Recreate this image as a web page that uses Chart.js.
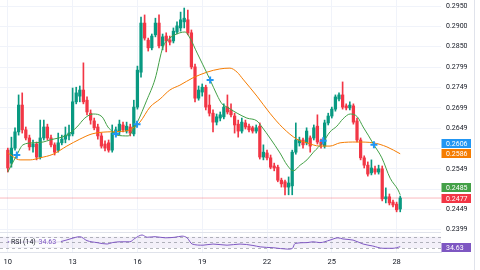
<!DOCTYPE html>
<html><head><meta charset="utf-8">
<script src="https://cdn.jsdelivr.net/npm/chart.js@4.4.1/dist/chart.umd.min.js"></script>
<style>
html,body{margin:0;padding:0;background:#fff;width:480px;height:270px;overflow:hidden}
#main{position:absolute;left:0;top:0}
#rsi{position:absolute;left:0;top:232px}
#edge{position:absolute;left:474px;top:0;width:1px;height:270px;background:#e0e3eb}
#sep{position:absolute;left:0;top:232px;width:441px;height:1px;background:#e0e3eb}
</style></head><body>
<canvas id="main" width="480" height="233"></canvas>
<canvas id="rsi" width="480" height="38"></canvas>
<div id="sep"></div>
<div id="edge"></div>
<script>
// ---- data (4h candles, index 0 = day 10 00:00) ----
const open = [.2595,.2563,.2600,.2640,.2706,.2645,.2625,.2603,.2610,.2578,
.2625,.2652,.2625,.2608,.2595,.2613,.2622,.2630,.2635,.2714,
.2728,.2743,.2718,.2686,.2667,.2652,.2630,.2610,.2613,.2595,
.2637,.2640,.2657,.2642,.2652,.2635,.2701,.2787,.2908,.2866,
.2847,.2879,.2908,.2852,.2876,.2866,.2864,.2886,.2896,.2911,
.2916,.2884,.2800,.2723,.2738,.2750,.2706,.2686,.2664,.2674,
.2677,.2701,.2694,.2679,.2659,.2642,.2662,.2654,.2650,.2642,
.2654,.2578,.2588,.2576,.2556,.2553,.2521,.2517,.2504,.2507,
.2590,.2613,.2620,.2613,.2625,.2625,.2654,.2615,.2605,.2662,
.2679,.2696,.2721,.2731,.2704,.2699,.2704,.2667,.2620,.2576,
.2558,.2539,.2549,.2541,.2549,.2475,.2480,.2467,.2462,.2450];
const close = [.2551,.2600,.2640,.2706,.2645,.2625,.2603,.2610,.2578,.2625,
.2652,.2625,.2608,.2590,.2613,.2622,.2632,.2637,.2714,.2736,
.2743,.2714,.2689,.2669,.2650,.2630,.2605,.2600,.2595,.2637,
.2645,.2659,.2645,.2654,.2637,.2701,.2792,.2908,.2871,.2847,
.2876,.2908,.2852,.2874,.2864,.2861,.2888,.2901,.2916,.2920,
.2884,.2800,.2723,.2743,.2750,.2701,.2686,.2664,.2677,.2682,
.2701,.2689,.2682,.2657,.2642,.2664,.2652,.2645,.2642,.2650,
.2578,.2590,.2576,.2553,.2551,.2521,.2512,.2504,.2514,.2590,
.2620,.2620,.2608,.2642,.2605,.2650,.2615,.2608,.2662,.2679,
.2696,.2726,.2731,.2701,.2699,.2706,.2664,.2620,.2576,.2558,
.2536,.2551,.2541,.2549,.2475,.2480,.2465,.2460,.2448,.2477];
const high = [.2600,.2627,.2650,.2731,.2736,.2652,.2632,.2620,.2615,.2669,
.2669,.2659,.2632,.2613,.2637,.2632,.2652,.2657,.2748,.2750,
.2753,.2810,.2726,.2694,.2674,.2659,.2637,.2618,.2620,.2657,
.2652,.2669,.2664,.2664,.2659,.2718,.2802,.2923,.2928,.2871,
.2881,.2920,.2928,.2881,.2884,.2876,.2896,.2911,.2935,.2945,
.2940,.2891,.2807,.2753,.2758,.2755,.2731,.2694,.2684,.2689,
.2709,.2731,.2709,.2686,.2669,.2674,.2669,.2659,.2654,.2657,
.2662,.2608,.2595,.2583,.2563,.2558,.2526,.2521,.2529,.2595,
.2662,.2627,.2625,.2650,.2630,.2657,.2682,.2622,.2669,.2686,
.2701,.2731,.2736,.2763,.2709,.2714,.2709,.2674,.2625,.2581,
.2566,.2571,.2556,.2558,.2556,.2502,.2487,.2472,.2467,.2482];
const low = [.2541,.2553,.2595,.2632,.2637,.2620,.2595,.2590,.2571,.2573,
.2620,.2620,.2603,.2583,.2590,.2608,.2613,.2620,.2630,.2709,
.2714,.2709,.2682,.2659,.2645,.2622,.2600,.2593,.2590,.2590,
.2630,.2632,.2640,.2637,.2630,.2630,.2696,.2775,.2866,.2839,
.2842,.2874,.2847,.2842,.2837,.2854,.2859,.2881,.2888,.2896,
.2879,.2795,.2714,.2718,.2728,.2694,.2679,.2640,.2657,.2667,
.2672,.2684,.2677,.2637,.2627,.2637,.2647,.2640,.2637,.2637,
.2573,.2571,.2571,.2549,.2544,.2517,.2504,.2485,.2485,.2485,
.2585,.2605,.2600,.2608,.2590,.2620,.2610,.2600,.2600,.2657,
.2674,.2691,.2716,.2696,.2694,.2694,.2659,.2615,.2571,.2551,
.2531,.2534,.2536,.2536,.2470,.2465,.2460,.2455,.2443,.2443];

// fast MA (green): candle index / price
const fastX = [0,2.5,4.2,7,9.8,11.7,16.4,19.2,21.4,23.7,26.2,27.8,29.2,30.3,33.4,34.8,36,38.6,40.9,43.1,45,47.8,49.2,50.6,52.6,54.2,56.2,58.1,59.5,60.9,63.7,66.4,69.2,70.6,72.8,75.6,77.6,79.3,81.2,83.1,84.9,87.6,89.5,91.4,93.1,95.1,97.1,98.7,100.1,101.7,103.9,106.2,108.4,109];
const fastY = [.2541,.2583,.2608,.2613,.2615,.2620,.2632,.2652,.2674,.2684,.2677,.2652,.2640,.2632,.2630,.2645,.2664,.2718,.2770,.2849,.2871,.2884,.2886,.2871,.2834,.2805,.2768,.2731,.2709,.2701,.2686,.2674,.2667,.2652,.2625,.2588,.2558,.2544,.2558,.2571,.2590,.2615,.2640,.2654,.2672,.2684,.2677,.2652,.2632,.2608,.2576,.2526,.2497,.2485];
// slow MA (orange)
const slowX = [0,3.4,6.2,8.9,12.6,16.4,20,23.4,27.8,32.6,34.8,36.7,39.5,42.3,45,47.8,51.4,55.3,58.9,61.7,63.7,65.3,69.2,72.8,76.4,80.3,83.1,86.6,89.5,92.3,97,101.5,105.3,109];
const slowY = [.2588,.2571,.2571,.2576,.2585,.2605,.2622,.2635,.2640,.2642,.2650,.2664,.2701,.2721,.2743,.2755,.2773,.2787,.2795,.2797,.2787,.2770,.2728,.2686,.2650,.2622,.2613,.2605,.2605,.2613,.2615,.2613,.2603,.2586];
// crossover markers
const crossX = [2.5,30,35.9,56.2,87.6,101.7];
const crossY = [.2583,.2635,.2659,.2768,.2618,.2608];
// RSI(14)
const rsiX = [0,3.4,7.6,11.7,14.5,17.8,20,22,24.8,27.6,29,31.2,33.9,35.3,37.3,38.7,40.9,43.7,46.4,48.4,49.8,51.2,54.2,57,60.9,64.5,68.1,70.1,73.7,77.8,79,79.8,83.1,84.8,86.7,89.5,91.7,93.1,95.9,98.7,101.4,104.2,107,109];
const rsiY = [52,50,55,50,52,64,70,56,49,44,49,52,52,64,76,68,70,66,68,72,66,44,40,44,40,44,39,34,31,26,28,46,49,52,49,58,66,62,58,44,37,29,29,34.63];
const rsiLast = 34.63;
// axis ticks
const dayTicks = [0,18,36,54,72,90,108];
const dayLabels = ['10','13','16','19','22','25','28'];
const priceTicks = [0.2950,0.2900,0.2850,0.2799,0.2749,0.2699,0.2649,0.2599,0.2549,0.2499,0.2449,0.2399];
const priceTickLabels = ['0.2950','0.2900','0.2850','0.2799','0.2749','0.2699','0.2649','','0.2549','','0.2449','0.2399'];
const valueTags = [
  {text:'0.2606', v:0.2606, c:'#2196f3'},
  {text:'0.2586', v:0.2586, c:'#f57c00'},
  {text:'0.2485', v:0.2485, c:'#43a047'},
  {text:'0.2477', v:0.2477, c:'#f23645'}
];

// ---- styling ----
const UP = '#089981', DN = '#f23645';
const FONT = 'Roboto, "Liberation Sans", sans-serif';
const X_MIN = -2.17, X_MAX = 120.33;
const Y_MIN = 0.23909, Y_MAX = 0.29648;
const R_MIN = 14.1, R_MAX = 86.6;
const AXIS_W = 39;
const idx = open.map((_, i) => i);
const col = ctx => (close[ctx.dataIndex] >= open[ctx.dataIndex] ? UP : DN);
const zeroPad = s => { s.paddingTop = 0; s.paddingBottom = 0; s.paddingLeft = 0; s.paddingRight = 0; };

function drawTag(ctx, left, y, text, color) {
  ctx.save();
  ctx.fillStyle = color;
  ctx.fillRect(left + 0.5, Math.round(y - 4.5), 29.5, 9);
  ctx.fillStyle = '#fff';
  ctx.font = '7px ' + FONT;
  ctx.textBaseline = 'middle';
  ctx.textAlign = 'left';
  ctx.fillText(text, left + 5, Math.round(y - 4.5) + 4.8);
  ctx.restore();
}

const tagsPlugin = {
  id: 'tags',
  afterDraw(chart) {
    const y = chart.scales.y, ctx = chart.ctx, left = chart.chartArea.right;
    const items = valueTags.map(t => ({...t, py: y.getPixelForValue(t.v)})).sort((a, b) => b.py - a.py);
    for (let i = 1; i < items.length; i++) {
      if (items[i].py > items[i - 1].py - 10.5) items[i].py = items[i - 1].py - 10.5;
    }
    items.forEach(t => drawTag(ctx, left, t.py, t.text, t.c));
  }
};

new Chart(document.getElementById('main'), {
  type: 'bar',
  data: {
    datasets: [
      {type: 'line', data: [{x: X_MIN, y: close[close.length - 1]}, {x: X_MAX, y: close[close.length - 1]}],
       borderColor: 'rgba(242,54,69,0.35)', borderWidth: 1, pointRadius: 0, order: 6},
      {data: idx.map(i => ({x: i, y: [low[i], high[i]]})), backgroundColor: col, barThickness: 1, grouped: false, order: 5},
      {data: idx.map(i => ({x: i, y: [open[i], close[i]]})), backgroundColor: col, barThickness: 2.6, minBarLength: 1, grouped: false, order: 4},
      {type: 'line', data: slowX.map((x, i) => ({x, y: slowY[i]})), borderColor: '#f57c00', borderWidth: 1,
       pointRadius: 0, cubicInterpolationMode: 'monotone', order: 3},
      {type: 'line', data: fastX.map((x, i) => ({x, y: fastY[i]})), borderColor: '#43a047', borderWidth: 1,
       pointRadius: 0, cubicInterpolationMode: 'monotone', order: 2},
      {type: 'scatter', data: crossX.map((x, i) => ({x, y: crossY[i]})), pointStyle: 'cross', pointRadius: 3.5,
       borderWidth: 2, borderColor: '#2196f3', backgroundColor: '#2196f3', order: 1}
    ]
  },
  options: {
    responsive: false, animation: false, devicePixelRatio: 1,
    layout: {padding: 0, autoPadding: false},
    plugins: {legend: {display: false}, tooltip: {enabled: false}},
    scales: {
      x: {type: 'linear', min: X_MIN, max: X_MAX, offset: false,
          grid: {color: '#f0f3fa', drawTicks: false, offset: false}, border: {display: false},
          ticks: {display: false},
          afterBuildTicks: s => { s.ticks = dayTicks.map(v => ({value: v})); },
          afterFit: s => { s.height = 0; zeroPad(s); }},
      y: {position: 'right', min: Y_MIN, max: Y_MAX,
          grid: {color: '#f0f3fa', drawTicks: false}, border: {display: false},
          ticks: {padding: 5, color: '#131722', font: {family: FONT, size: 7}, autoSkip: false,
                  callback: (v, i) => priceTickLabels[i]},
          afterBuildTicks: s => { s.ticks = priceTicks.map(v => ({value: v})); },
          afterFit: s => { s.width = AXIS_W; zeroPad(s); }}
    }
  },
  plugins: [tagsPlugin]
});

const rsiPlugin = {
  id: 'rsiBand',
  beforeDatasetsDraw(chart) {
    const {ctx, chartArea: a, scales: {y}} = chart;
    const y70 = y.getPixelForValue(70), y50 = y.getPixelForValue(50), y30 = y.getPixelForValue(30);
    ctx.save();
    ctx.fillStyle = 'rgba(126,87,194,0.09)';
    ctx.fillRect(a.left, y70, a.right - a.left, y30 - y70);
    ctx.strokeStyle = 'rgba(120,123,134,0.55)';
    ctx.lineWidth = 1;
    ctx.setLineDash([3, 3]);
    [y70, y50, y30].forEach(p => {
      ctx.beginPath(); ctx.moveTo(a.left, Math.round(p) + 0.5); ctx.lineTo(a.right, Math.round(p) + 0.5); ctx.stroke();
    });
    ctx.restore();
  },
  afterDraw(chart) {
    const {ctx, chartArea: a, scales: {y}} = chart;
    ctx.save();
    ctx.fillStyle = 'rgba(255,255,255,0.75)';
    ctx.fillRect(9, 6, 52, 9);
    ctx.font = '7px ' + FONT;
    ctx.textBaseline = 'middle';
    ctx.fillStyle = '#131722';
    ctx.fillText('RSI (14)', 11, 10.5);
    const w = ctx.measureText('RSI (14) ').width;
    ctx.fillStyle = '#7e57c2';
    ctx.fillText(rsiLast.toFixed(2), 11 + w + 1, 10.5);
    ctx.restore();
    drawTag(ctx, a.right, y.getPixelForValue(rsiLast) + 0.8, rsiLast.toFixed(2), '#7e57c2');
  }
};

new Chart(document.getElementById('rsi'), {
  type: 'line',
  data: {datasets: [{data: rsiX.map((x, i) => ({x, y: rsiY[i]})), borderColor: '#7e57c2', borderWidth: 1,
                     pointRadius: 0, cubicInterpolationMode: 'monotone'}]},
  options: {
    responsive: false, animation: false, devicePixelRatio: 1,
    layout: {padding: 0, autoPadding: false},
    plugins: {legend: {display: false}, tooltip: {enabled: false}},
    scales: {
      x: {type: 'linear', min: X_MIN, max: X_MAX, offset: false,
          grid: {color: '#f0f3fa', drawTicks: false}, border: {display: true, color: '#e0e3eb'},
          ticks: {padding: 5, color: '#131722', font: {family: FONT, size: 7.5}, maxRotation: 0, autoSkip: false,
                  callback: (v, i) => dayLabels[i]},
          afterBuildTicks: s => { s.ticks = dayTicks.map(v => ({value: v})); },
          afterFit: s => { s.height = 17.5; zeroPad(s); }},
      y: {position: 'right', min: R_MIN, max: R_MAX,
          grid: {display: false}, border: {display: false}, ticks: {display: false},
          afterFit: s => { s.width = AXIS_W; zeroPad(s); }}
    }
  },
  plugins: [rsiPlugin]
});
</script>
</body></html>
